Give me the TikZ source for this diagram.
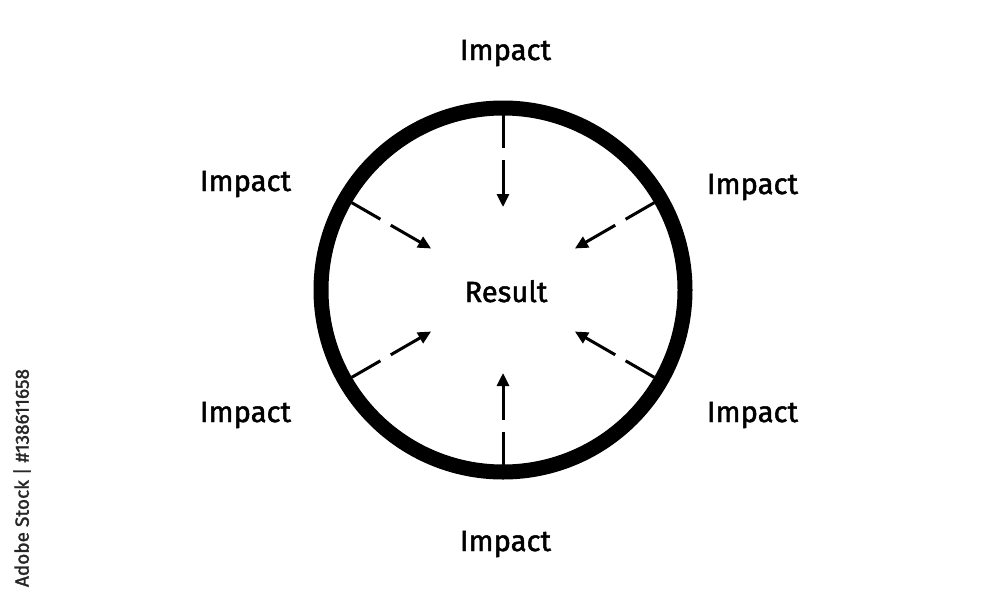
\documentclass[tikz,border=0pt]{standalone}
\usepackage{fontspec}
\setmainfont{Fira Sans}
\newfontfamily\lblfont[FakeBold=1.6]{Fira Sans}
\usetikzlibrary{arrows.meta,calc}
\begin{document}
\begin{tikzpicture}[x=0.5pt,y=-0.5pt,
  lbl/.style={font=\lblfont\fontsize{14.6}{16}\selectfont, anchor=base, inner sep=0pt},
  ring/.style={line width=7.5pt},
  impactarrow/.style={line width=1.5pt, dash pattern=on 16.5pt off 6pt on 100pt,
    -{Triangle[length=6.5pt,width=6pt]}},
  wm/.style={font=\lblfont\fontsize{9.5}{11}\selectfont, text=black!85, rotate=90, inner sep=0pt}]
\useasboundingbox (0,0) rectangle (1000,600);
\fill[white] (0,0) rectangle (1000,600);
\coordinate (c) at (503,290);
\draw[ring] (c) circle[radius=91pt];
\foreach \a in {90,30,150,210,270,330}{
  \coordinate (s\a) at ($(c)+(\a:87.3pt)$);
  \coordinate (t\a) at ($(c)+(\a:41.5pt)$);
  \draw[impactarrow] (s\a) -- (t\a);
}
\node[lbl] (result) at (506,302) {Result};
\node[lbl] (imptop) at (505.5,60) {Impact};
\node[lbl] (impul) at (245.5,191) {Impact};
\node[lbl] (impur) at (752.5,194) {Impact};
\node[lbl] (impll) at (245.5,422) {Impact};
\node[lbl] (implr) at (752.5,422) {Impact};
\node[lbl] (impbot) at (505.5,551) {Impact};
\node[wm] (stock) at (22,478) {Adobe Stock | \#138611658};
\end{tikzpicture}
\end{document}
